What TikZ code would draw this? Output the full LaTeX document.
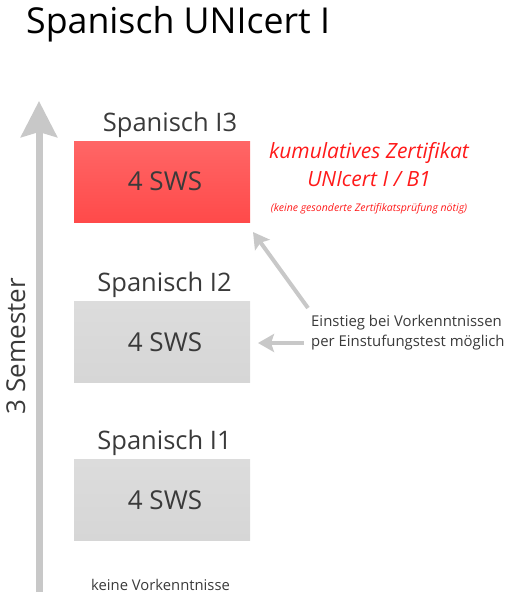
\documentclass[tikz,border=0pt]{standalone}
\usepackage{fontspec}
\setmainfont{Open Sans}
\usetikzlibrary{arrows.meta}
\definecolor{txtgray}{HTML}{3A3A3A}
\definecolor{arrgray}{HTML}{C8C8C8}
\definecolor{redtop}{HTML}{FF6666}
\definecolor{redbot}{HTML}{FF4A4A}
\definecolor{graytop}{HTML}{DCDCDC}
\definecolor{graybot}{HTML}{D6D6D6}
\definecolor{certred}{HTML}{FF1A1A}
\tikzset{
  sbox/.style={minimum width=176pt, minimum height=81pt, inner sep=0pt, draw=none,
    font=\fontsize{26}{30}\selectfont, text=txtgray},
  redbox/.style={sbox, top color=redtop, bottom color=redbot},
  graybox/.style={sbox, top color=graytop, bottom color=graybot},
  coursename/.style={anchor=base, inner sep=0pt, font=\fontsize{25.5}{28}\selectfont, text=txtgray},
  smallarrow/.style={draw=arrgray, line width=4pt, -{Stealth[length=16pt,width=18pt,inset=3pt]}},
  note/.style={inner sep=0pt, font=\fontsize{14.9}{20}\selectfont, text=txtgray, align=left}
}
\begin{document}
\begin{tikzpicture}[x=1pt,y=-1pt]
\useasboundingbox (0,0) rectangle (510,600);
% title
\node[anchor=base west, inner sep=0pt, font=\fontsize{35.7}{40}\selectfont] (title) at (26,33) {Spanisch UNIcert I};
% time axis
\coordinate (axisbot) at (39,592);
\coordinate (axistop) at (39,101);
\draw[draw=arrgray, line width=7pt, -{Stealth[length=36pt,width=36pt,inset=5pt]}] (axisbot) -- (axistop);
\node[rotate=90, anchor=base, inner sep=0pt, font=\fontsize{26}{30}\selectfont, text=txtgray] (sem) at (25,346) {3 Semester};
% boxes
\node[redbox] (i3) at (162,181.5) {\hspace*{6pt}4 SWS};
\node[graybox] (i2) at (162,342) {\hspace*{6pt}4 SWS};
\node[graybox] (i1) at (162,500) {\hspace*{6pt}4 SWS};
\node[coursename] (l3) at (170,131) {Spanisch I3};
\node[coursename] (l2) at (164.5,291) {Spanisch I2};
\node[coursename] (l1) at (164.5,449) {Spanisch I1};
% certificate text
\node[anchor=base, inner sep=0pt, text=certred, font=\fontsize{21}{24}\itshape\selectfont] (cert1) at (369,158) {kumulatives Zertifikat};
\node[anchor=base, inner sep=0pt, text=certred, font=\fontsize{21}{24}\itshape\selectfont] (cert2) at (369,186) {UNIcert I / B1};
\node[anchor=base, inner sep=0pt, text=certred, font=\fontsize{10.5}{12}\itshape\selectfont] (cert3) at (369,211) {(keine gesonderte Zertifikatsprüfung nötig)};
% entry note
\node[note, anchor=north west] (entry) at (311,315) {Einstieg bei Vorkenntnissen\\per Einstufungstest möglich};
\coordinate (d1) at (308,308);
\coordinate (d2) at (253,232);
\coordinate (h1) at (304,343);
\coordinate (h2) at (258,343);
\draw[smallarrow] (d1) -- (d2);
\draw[smallarrow] (h1) -- (h2);
% bottom note
\node[anchor=base west, inner sep=0pt, font=\fontsize{14.8}{18}\selectfont, text=txtgray] (none) at (91,590) {keine Vorkenntnisse};
\end{tikzpicture}
\end{document}
